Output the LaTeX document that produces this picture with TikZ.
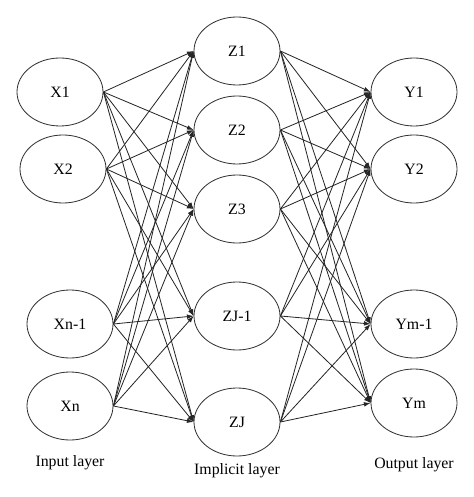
\documentclass[tikz,border=0pt]{standalone}
\usepackage{fontspec}
\setmainfont{Liberation Serif}
\usetikzlibrary{shapes.geometric, arrows.meta}
\tikzset{ u/.style = { ellipse
                     , draw = black!80
                     , line width     = 0.7pt
                     , inner sep      = 0pt
                     , minimum width  = 25.8mm
                     , minimum height = 20.4mm
                     , font = \fontsize{13.5}{16}\selectfont
                     },
          w/.style = { -{Latex[length=2mm, width=1.4mm]}
                     , draw = black!85
                     , line width = 0.7pt
                     },
          lab/.style = { font = \fontsize{13.5}{16}\selectfont
                       }
        }

\begin{document}
\begin{tikzpicture}[x=0.3mm, y=-0.3mm]
    \useasboundingbox (0,0) rectangle (474,497);
    % input layer
    \node[u] (x1)  at (60,92)   {X1};
    \node[u] (x2)  at (63,169)  {X2};
    \node[u] (xn1) at (70,324)  {Xn-1};
    \node[u] (xn)  at (70,406)  {Xn};
    % implicit layer
    \node[u] (z1)  at (237,51)  {Z1};
    \node[u] (z2)  at (237,130) {Z2};
    \node[u] (z3)  at (237,209) {Z3};
    \node[u] (zj1) at (237,316) {ZJ-1};
    \node[u] (zj)  at (237,422) {ZJ};
    % output layer
    \node[u] (y1)  at (414,92)  {Y1};
    \node[u] (y2)  at (414,169) {Y2};
    \node[u] (ym1) at (414,324) {Ym-1};
    \node[u] (ym)  at (414,403) {Ym};
    % every unit to every unit of the next layer
    \foreach \a in {x1,x2,xn1,xn}
        \foreach \b in {z1,z2,z3,zj1,zj}
            \draw[w] (\a.east) -- (\b.west);
    \foreach \a in {z1,z2,z3,zj1,zj}
        \foreach \b in {y1,y2,ym1,ym}
            \draw[w] (\a.east) -- (\b.west);
    % captions
    \node[lab] (tin)  at (70,463)  {Input layer};
    \node[lab] (tmid) at (237,471) {Implicit layer};
    \node[lab] (tout) at (414,465) {Output layer};
\end{tikzpicture}
\end{document}
